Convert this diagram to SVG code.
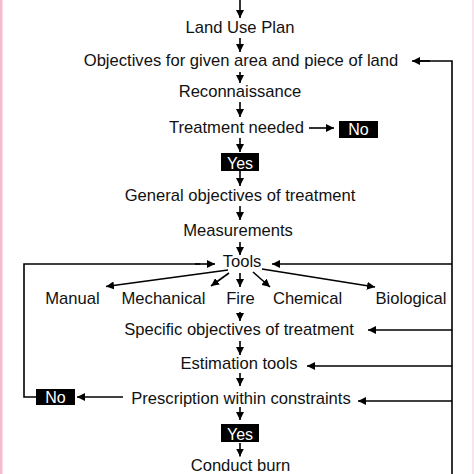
<svg xmlns="http://www.w3.org/2000/svg" width="474" height="474" viewBox="0 0 474 474">
<style>
text{font-family:"Liberation Sans",Arial,sans-serif;font-size:16.6px;fill:#111}
.c{text-anchor:middle}
.w{fill:#fff;text-anchor:middle;font-size:16px}
.box{fill:#000}
.ln{stroke:#000;stroke-width:1.6;fill:none}
.ar{marker-end:url(#ah)}
</style>
<defs>
<marker id="ah" markerUnits="userSpaceOnUse" markerWidth="10" markerHeight="8" refX="8" refY="4" orient="auto">
<path d="M0,0 L8,4 L0,8 Z" fill="#000"/>
</marker>
</defs>
<rect width="474" height="474" fill="#fff"/>
<rect x="0" y="0" width="2.5" height="474" fill="#f7b8d0"/>
<rect x="472" y="0" width="2" height="474" fill="#f9e3ee"/>

<g id="connectors">
<line class="ln ar" x1="240" y1="0" x2="240" y2="18"/>
<line class="ln ar" x1="240" y1="38" x2="240" y2="52"/>
<line class="ln ar" x1="240" y1="72" x2="240" y2="83"/>
<line class="ln ar" x1="240" y1="102" x2="240" y2="117"/>
<line class="ln ar" x1="309" y1="128" x2="334" y2="128"/>
<line class="ln ar" x1="240" y1="138" x2="240" y2="152"/>
<line class="ln ar" x1="240" y1="171" x2="240" y2="186"/>
<line class="ln ar" x1="240" y1="206" x2="240" y2="220"/>
<line class="ln ar" x1="240" y1="242" x2="240" y2="255"/>
<polyline class="ln" points="452,474 452,61 420,61"/>
<line class="ln ar" x1="430" y1="61" x2="412" y2="61"/>
<line class="ln ar" x1="452" y1="264" x2="272" y2="264"/>
<line class="ln ar" x1="452" y1="330" x2="368" y2="330"/>
<line class="ln ar" x1="452" y1="366" x2="307" y2="366"/>
<line class="ln ar" x1="452" y1="401" x2="358" y2="401"/>
<polyline class="ln" points="36,397 24,397 24,264 200,264"/>
<line class="ln ar" x1="195" y1="264" x2="215" y2="264"/>
<line class="ln ar" x1="228" y1="270" x2="106" y2="286.5"/>
<line class="ln ar" x1="229" y1="273" x2="211" y2="286"/>
<line class="ln ar" x1="240" y1="273" x2="240" y2="287"/>
<line class="ln ar" x1="253" y1="272" x2="270" y2="287"/>
<line class="ln ar" x1="262" y1="269" x2="375" y2="287"/>
<line class="ln ar" x1="240" y1="312" x2="240" y2="321"/>
<line class="ln ar" x1="240" y1="341" x2="240" y2="355"/>
<line class="ln ar" x1="240" y1="373" x2="240" y2="386"/>
<line class="ln ar" x1="123" y1="397" x2="77" y2="397"/>
<line class="ln ar" x1="240" y1="407" x2="240" y2="420"/>
<line class="ln ar" x1="240" y1="443" x2="240" y2="456.5"/>
</g>

<g id="land-use-plan"><text class="c" x="240" y="32.5">Land Use Plan</text></g>
<g id="objectives"><text class="c" x="241" y="65.5">Objectives for given area and piece of land</text></g>
<g id="reconnaissance"><text class="c" x="240" y="96.7">Reconnaissance</text></g>
<g id="treatment-needed"><text x="169" y="133.3">Treatment needed</text></g>
<g id="no-top"><rect class="box" x="339" y="121" width="39" height="17"/><text class="w" x="358.5" y="135">No</text></g>
<g id="yes-1"><rect class="box" x="221" y="153" width="38" height="18"/><text class="w" x="240" y="168.5">Yes</text></g>
<g id="general-objectives"><text class="c" x="240" y="200.5">General objectives of treatment</text></g>
<g id="measurements"><text class="c" x="238" y="235.7">Measurements</text></g>
<g id="tools"><text class="c" x="242" y="267.3">Tools</text></g>
<g id="manual"><text class="c" x="72.5" y="303.5">Manual</text></g>
<g id="mechanical"><text class="c" x="163.5" y="303.5">Mechanical</text></g>
<g id="fire"><text class="c" x="240.5" y="303.5">Fire</text></g>
<g id="chemical"><text class="c" x="307.5" y="303.5">Chemical</text></g>
<g id="biological"><text class="c" x="411" y="303.5">Biological</text></g>
<g id="specific-objectives"><text class="c" x="239" y="334.7">Specific objectives of treatment</text></g>
<g id="estimation-tools"><text class="c" x="239" y="369">Estimation tools</text></g>
<g id="prescription"><text class="c" x="241" y="404">Prescription within constraints</text></g>
<g id="no-left"><rect class="box" x="36" y="389" width="39" height="16"/><text class="w" x="55.5" y="402.5">No</text></g>
<g id="yes-2"><rect class="box" x="221" y="424" width="38" height="18"/><text class="w" x="240" y="439.5">Yes</text></g>
<g id="conduct-burn"><text class="c" x="240.5" y="470.7">Conduct burn</text></g>
</svg>
